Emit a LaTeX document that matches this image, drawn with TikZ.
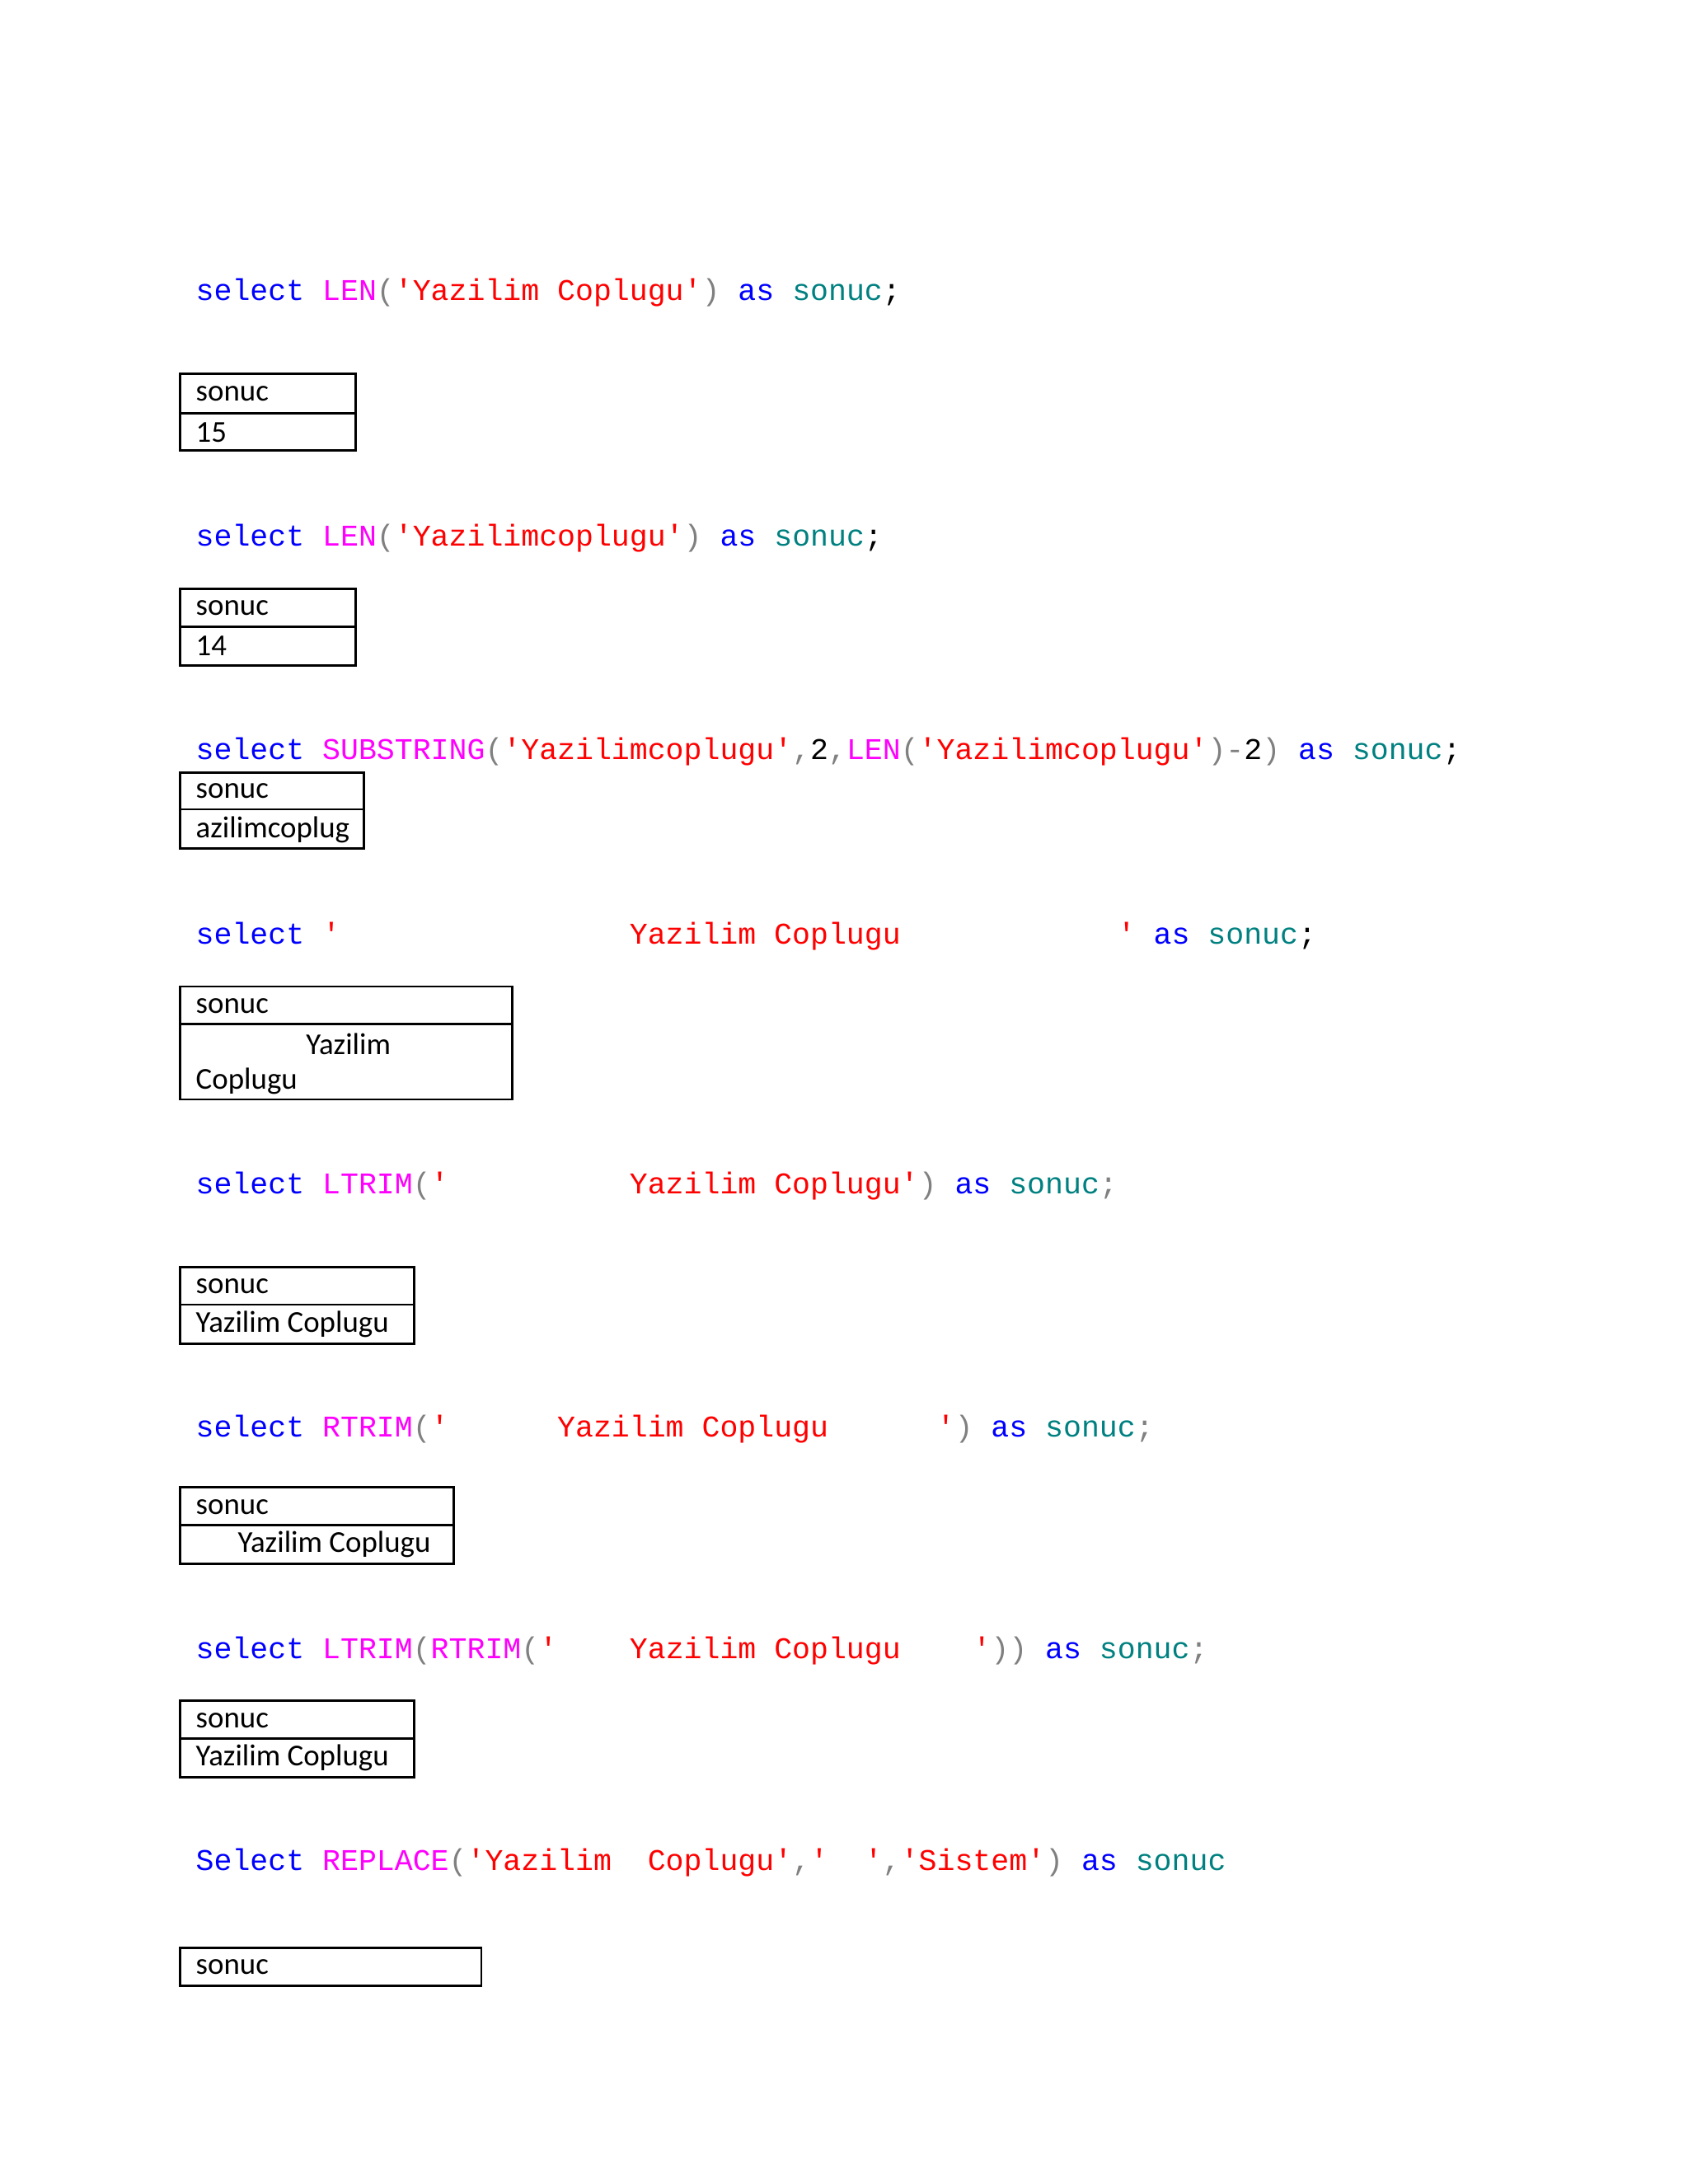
\documentclass[tikz,border=0pt]{standalone}
\usepackage{fontspec}
\setmainfont{Carlito}
\newfontfamily\codefont{Liberation Mono}
\definecolor{kwblue}{RGB}{0,0,255}
\definecolor{fnpink}{RGB}{255,0,255}
\definecolor{strred}{RGB}{255,0,0}
\definecolor{idteal}{RGB}{0,128,128}
\definecolor{pngray}{RGB}{128,128,128}
\newcommand\kw[1]{\textcolor{kwblue}{#1}}
\newcommand\fn[1]{\textcolor{fnpink}{#1}}
\newcommand\str[1]{\textcolor{strred}{#1}}
\newcommand\idt[1]{\textcolor{idteal}{#1}}
\newcommand\pn[1]{\textcolor{pngray}{#1}}
\newcommand\sps[1]{\hspace*{#1\dimexpr0.6em\relax}}
\tikzset{
  code/.style={anchor=west,inner sep=0pt,font=\codefont\fontsize{10.4}{12}\selectfont},
  cell/.style={anchor=west,inner sep=0pt,font=\fontsize{10.5}{12}\selectfont},
  grid/.style={draw=black,line width=0.8pt}
}
\begin{document}
\begin{tikzpicture}[x=0.01693cm,y=-0.01693cm]
	\useasboundingbox (0,0) rectangle (1209.7,1565.3);
	% query lines
	\node[code](q1) at (140,210){\kw{select} \fn{LEN}\pn{(}\str{'Yazilim Coplugu'}\pn{)} \kw{as} \idt{sonuc};};
	\node[code](q2) at (140,386){\kw{select} \fn{LEN}\pn{(}\str{'Yazilimcoplugu'}\pn{)} \kw{as} \idt{sonuc};};
	\node[code](q3) at (140,539){\kw{select} \fn{SUBSTRING}\pn{(}\str{'Yazilimcoplugu'}\pn{,}2\pn{,}\fn{LEN}\pn{(}\str{'Yazilimcoplugu'}\pn{)-}2\pn{)} \kw{as} \idt{sonuc};};
	\node[code](q4) at (140,671){\kw{select} \str{'\sps{16}Yazilim Coplugu\sps{12}'} \kw{as} \idt{sonuc};};
	\node[code](q5) at (140,850){\kw{select} \fn{LTRIM}\pn{(}\str{'\sps{10}Yazilim Coplugu'}\pn{)} \kw{as} \idt{sonuc}\pn{;}};
	\node[code](q6) at (140,1024){\kw{select} \fn{RTRIM}\pn{(}\str{'\sps{6}Yazilim Coplugu\sps{6}'}\pn{)} \kw{as} \idt{sonuc}\pn{;}};
	\node[code](q7) at (140,1183){\kw{select} \fn{LTRIM}\pn{(}\fn{RTRIM}\pn{(}\str{'\sps{4}Yazilim Coplugu\sps{4}'}\pn{))} \kw{as} \idt{sonuc}\pn{;}};
	\node[code](q8) at (140,1335){\kw{Select} \fn{REPLACE}\pn{(}\str{'Yazilim\sps{2}Coplugu'}\pn{,}\str{'\sps{2}'}\pn{,}\str{'Sistem'}\pn{)} \kw{as} \idt{sonuc}};
	% result tables
	\draw[grid] (129,268) rectangle (255,323) (129,296)--(255,296);
	\node[cell](h1) at (140,282){sonuc};
	\node[cell](v1) at (140,310){15};
	\draw[grid] (129,422) rectangle (255,477) (129,449)--(255,449);
	\node[cell](h2) at (140,436){sonuc};
	\node[cell](v2) at (140,463){14};
	\draw[grid] (129,554) rectangle (261,608) (129,580)--(261,580);
	\node[cell](h3) at (140,567){sonuc};
	\node[cell](v3) at (140,595){azilimcoplug};
	\draw[grid] (129,707) rectangle (367,788) (129,734)--(367,734);
	\node[cell](h4) at (140,721){sonuc};
	\node[cell](v4a) at (219,748){Yazilim};
	\node[cell](v4b) at (140,775){Coplugu};
	\draw[grid] (129,908) rectangle (297,963) (129,935)--(297,935);
	\node[cell](h5) at (140,922){sonuc};
	\node[cell](v5) at (140,949){Yazilim Coplugu};
	\draw[grid] (129,1066) rectangle (325,1121) (129,1093)--(325,1093);
	\node[cell](h6) at (140,1080){sonuc};
	\node[cell](v6) at (170,1107){Yazilim Coplugu};
	\draw[grid] (129,1219) rectangle (297,1274) (129,1246)--(297,1246);
	\node[cell](h7) at (140,1233){sonuc};
	\node[cell](v7) at (140,1260){Yazilim Coplugu};
	\draw[grid] (129,1396) rectangle (345,1423);
	\node[cell](h8) at (140,1410){sonuc};
\end{tikzpicture}
\end{document}
